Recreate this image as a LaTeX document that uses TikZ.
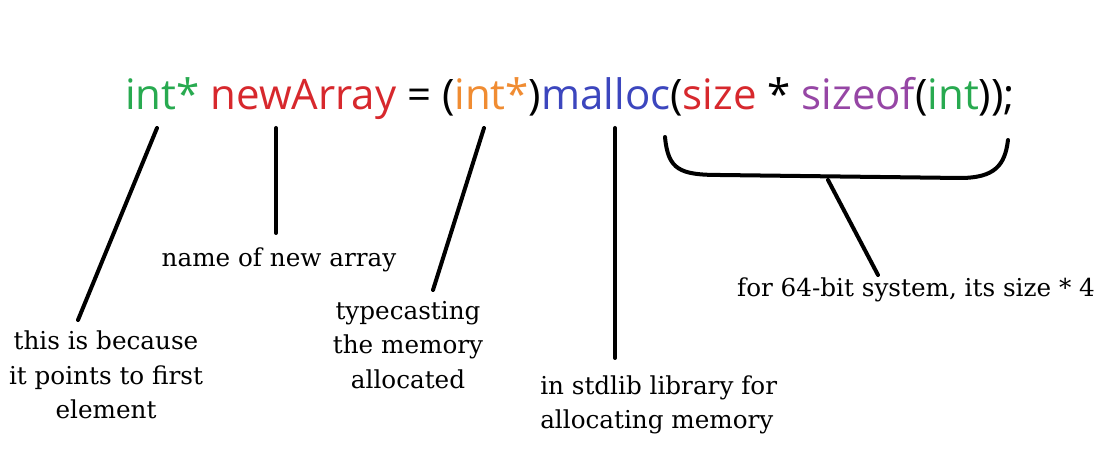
\documentclass[tikz,border=0pt]{standalone}
\usepackage{fontspec}
\setmainfont{DejaVu Serif}
\newfontfamily\codefont{Open Sans}
\definecolor{cg}{RGB}{40,170,80}
\definecolor{cr}{RGB}{215,40,45}
\definecolor{co}{RGB}{240,140,50}
\definecolor{cb}{RGB}{60,70,190}
\definecolor{cp}{RGB}{150,70,165}
\tikzset{x=0.75pt,y=-0.75pt,
 pen/.style={line width=3pt,line cap=round},
 lab/.style={font=\fontsize{18.5}{26}\selectfont,align=center,inner sep=0pt}}
\begin{document}
\begin{tikzpicture}
\useasboundingbox[fill=white] (0,0) rectangle (1099,466);
\node[anchor=west,inner sep=0pt,font=\codefont\fontsize{31.5}{34}\selectfont] (code) at (125,98)
 {\textcolor{cg}{int*} \textcolor{cr}{newArray} = (\textcolor{co}{int*})\textcolor{cb}{malloc}(\textcolor{cr}{size} * \textcolor{cp}{sizeof}(\textcolor{cg}{int}));};
\coordinate (a1) at (157,128); \coordinate (a2) at (78,320);
\coordinate (b1) at (276,128); \coordinate (b2) at (276,233);
\coordinate (c1) at (484,128); \coordinate (c2) at (433,290);
\coordinate (d1) at (615,128); \coordinate (d2) at (615,358);
\coordinate (e1) at (828,180); \coordinate (e2) at (878,275);
\draw[pen] (a1)--(a2);
\draw[pen] (b1)--(b2);
\draw[pen] (c1)--(c2);
\draw[pen] (d1)--(d2);
\draw[pen] (665,137) .. controls (668,170) and (680,175) .. (720,175) -- (960,178) .. controls (995,178) and (1005,165) .. (1008,140);
\draw[pen] (e1)--(e2);
\node[lab] (n1) at (106,375) {this is because\\it points to first\\element};
\node[lab] (n2) at (279,260) {name of new array};
\node[lab] (n3) at (408,345) {typecasting\\the memory\\allocated};
\node[lab,anchor=west,align=left] (n4) at (540,405) {in stdlib library for\\allocating memory};
\node[lab] (n5) at (916,290) {for 64-bit system, its size * 4};
\end{tikzpicture}
\end{document}
